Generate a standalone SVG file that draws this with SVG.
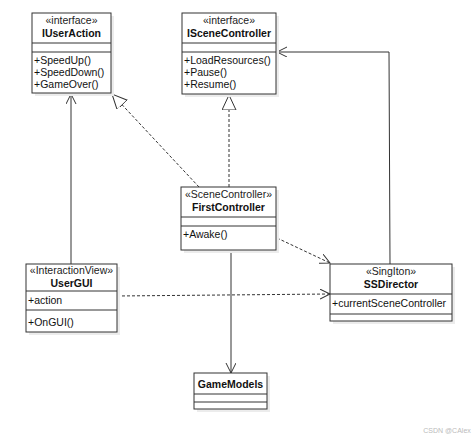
<svg xmlns="http://www.w3.org/2000/svg" width="474" height="441" viewBox="0 0 474 441">
<defs>
<style>
.box{fill:#fff;stroke:#333;stroke-width:1}
.sh{fill:#ececec}
.ln{stroke:#333;stroke-width:1;fill:none}
.t{font-family:"Liberation Sans",Arial,sans-serif;font-size:10.5px;fill:#111}
.st{font-family:"Liberation Sans",Arial,sans-serif;font-size:10.5px;fill:#222;text-anchor:middle}
.b{font-family:"Liberation Sans",Arial,sans-serif;font-size:10.5px;font-weight:bold;fill:#111;text-anchor:middle}
.c{stroke:#333;stroke-width:1;fill:none}
.d{stroke:#333;stroke-width:1;fill:none;stroke-dasharray:3,2}
</style>
<marker id="open" markerWidth="12" markerHeight="12" refX="10" refY="5" orient="auto" markerUnits="userSpaceOnUse">
<path d="M0,0 L10,5 L0,10" fill="none" stroke="#333" stroke-width="1"/>
</marker>
<marker id="tri" markerWidth="18" markerHeight="16" refX="15" refY="7" orient="auto" markerUnits="userSpaceOnUse">
<path d="M0,0 L15,7 L0,14 Z" fill="#fff" stroke="#333" stroke-width="1"/>
</marker>
</defs>
<rect width="474" height="441" fill="#fff"/>

<g id="connectors">
<line class="c" x1="71" y1="264" x2="71" y2="94" marker-end="url(#open)"/>
<line class="d" x1="199" y1="187" x2="112" y2="94" marker-end="url(#tri)"/>
<line class="d" x1="229" y1="187" x2="229" y2="95" marker-end="url(#tri)"/>
<polyline class="c" points="390,264 389,52 277,52" marker-end="url(#open)"/>
<line class="d" x1="277" y1="238" x2="330" y2="263" marker-end="url(#open)"/>
<line class="d" x1="117" y1="296" x2="330" y2="294" marker-end="url(#open)"/>
<line class="c" x1="231" y1="250" x2="231" y2="373" marker-end="url(#open)"/>
</g>

<g id="IUserAction">
<rect class="sh" x="35" y="16" width="79" height="80"/>
<rect class="box" x="32" y="13" width="79" height="80"/>
<line class="ln" x1="32" y1="43" x2="111" y2="43"/>
<line class="ln" x1="32" y1="52" x2="111" y2="52"/>
<text class="st" x="71.5" y="24">«interface»</text>
<text class="b" x="71.5" y="37">IUserAction</text>
<text class="t" x="34" y="64">+SpeedUp()</text>
<text class="t" x="34" y="76">+SpeedDown()</text>
<text class="t" x="34" y="88">+GameOver()</text>
</g>

<g id="ISceneController">
<rect class="sh" x="185" y="16" width="94" height="81"/>
<rect class="box" x="182" y="13" width="94" height="81"/>
<line class="ln" x1="182" y1="43" x2="276" y2="43"/>
<line class="ln" x1="182" y1="52" x2="276" y2="52"/>
<text class="st" x="229" y="24">«interface»</text>
<text class="b" x="229" y="37">ISceneController</text>
<text class="t" x="184" y="64">+LoadResources()</text>
<text class="t" x="184" y="76">+Pause()</text>
<text class="t" x="184" y="88">+Resume()</text>
</g>

<g id="FirstController">
<rect class="sh" x="184" y="190" width="95" height="63"/>
<rect class="box" x="181" y="187" width="95" height="63"/>
<line class="ln" x1="181" y1="217" x2="276" y2="217"/>
<line class="ln" x1="181" y1="226" x2="276" y2="226"/>
<text class="st" x="228.5" y="198">«SceneController»</text>
<text class="b" x="228.5" y="211">FirstController</text>
<text class="t" x="183" y="238">+Awake()</text>
</g>

<g id="UserGUI">
<rect class="sh" x="29" y="267" width="91" height="68"/>
<rect class="box" x="26" y="264" width="91" height="68"/>
<line class="ln" x1="26" y1="291" x2="117" y2="291"/>
<line class="ln" x1="26" y1="310" x2="117" y2="310"/>
<text class="st" x="71.5" y="274">«InteractionView»</text>
<text class="b" x="71.5" y="287">UserGUI</text>
<text class="t" x="28" y="304">+action</text>
<text class="t" x="28" y="326">+OnGUI()</text>
</g>

<g id="SSDirector">
<rect class="sh" x="333" y="267" width="122" height="57"/>
<rect class="box" x="330" y="264" width="122" height="57"/>
<line class="ln" x1="330" y1="294" x2="452" y2="294"/>
<line class="ln" x1="330" y1="314" x2="452" y2="314"/>
<text class="st" x="391" y="275">«SingIton»</text>
<text class="b" x="391" y="288">SSDirector</text>
<text class="t" x="332" y="307">+currentSceneController</text>
</g>

<g id="GameModels">
<rect class="sh" x="197" y="376" width="73" height="36"/>
<rect class="box" x="194" y="373" width="73" height="36"/>
<line class="ln" x1="194" y1="394" x2="267" y2="394"/>
<line class="ln" x1="194" y1="402" x2="267" y2="402"/>
<text class="b" x="230.5" y="388">GameModels</text>
</g>

<text x="447" y="433" style="font-family:'Liberation Sans',Arial,sans-serif;font-size:7px;fill:#bbb;text-anchor:middle">CSDN @CAlex</text>
</svg>
